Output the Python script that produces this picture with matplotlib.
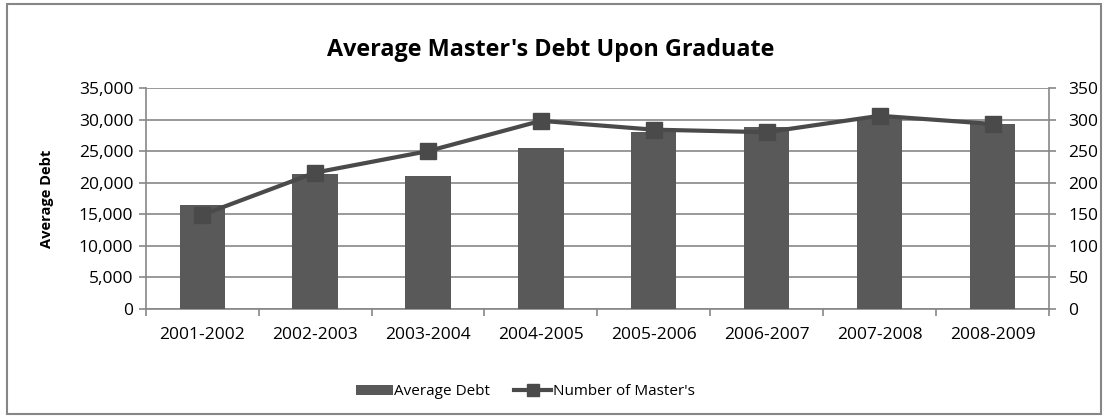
import numpy as np
import matplotlib
matplotlib.use('Agg')
import matplotlib.pyplot as plt
from matplotlib.patches import Rectangle
from matplotlib.ticker import FuncFormatter

# data
years = ['2001-2002', '2002-2003', '2003-2004', '2004-2005',
         '2005-2006', '2006-2007', '2007-2008', '2008-2009']
avg_debt = [16500, 21300, 21000, 25500, 28000, 28900, 30400, 29300]
num_masters = [149, 216, 250, 298, 284, 280, 306, 293]

BAR_COLOR = '#595959'
LINE_COLOR = '#4a4a4a'
GRID_COLOR = '#878787'
FONT = 'Open Sans'

plt.rcParams['font.family'] = [FONT, 'DejaVu Sans']

fig = plt.figure(figsize=(11.08, 4.20), dpi=100)
fig.patches.append(Rectangle((0.006, 0.014), 0.988, 0.976, transform=fig.transFigure,
                             fill=False, edgecolor='#868686', linewidth=1.5))

ax = fig.add_axes([0.1315, 0.2643, 0.8153, 0.5262])
x = np.arange(len(years))
ax.bar(x, avg_debt, width=0.4, color=BAR_COLOR, zorder=3, label='Average Debt')
ax.set_xlim(-0.5, len(years) - 0.5)
ax.set_ylim(0, 35000)
ax.set_yticks(np.arange(0, 35001, 5000))
ax.yaxis.set_major_formatter(FuncFormatter(lambda v, p: '{:,.0f}'.format(v)))
ax.yaxis.grid(True, color=GRID_COLOR, linewidth=1.2, zorder=0)
ax.set_axisbelow(True)

ax.set_xticks(x)
ax.set_xticklabels(years)
ax.set_xticks(np.arange(-0.5, len(years), 1), minor=True)
ax.tick_params(axis='x', which='major', length=0, pad=13, labelsize=12.5)
ax.tick_params(axis='x', which='minor', length=5, color=GRID_COLOR, width=1.2)
ax.tick_params(axis='y', length=5, color=GRID_COLOR, width=1.2, labelsize=12.5, pad=4)
for side in ['top', 'right']:
    ax.spines[side].set_visible(False)
for side in ['left', 'bottom']:
    ax.spines[side].set_color(GRID_COLOR)
    ax.spines[side].set_linewidth(1.2)
ax.set_ylabel('Average Debt', fontsize=10.5, fontweight='bold', labelpad=18)

ax2 = ax.twinx()
ax2.plot(x, num_masters, color=LINE_COLOR, linewidth=3, marker='s', markersize=11,
         markerfacecolor=LINE_COLOR, markeredgecolor=LINE_COLOR, zorder=4,
         label="Number of Master's")
ax2.set_ylim(0, 350)
ax2.set_yticks(np.arange(0, 351, 50))
ax2.tick_params(axis='y', length=5, color=GRID_COLOR, width=1.2, labelsize=12.5, pad=9)
for side in ['top', 'left', 'bottom']:
    ax2.spines[side].set_visible(False)
ax2.spines['right'].set_color(GRID_COLOR)
ax2.spines['right'].set_linewidth(1.2)

fig.text(0.497, 0.882, "Average Master's Debt Upon Graduate", ha='center', va='center',
         fontsize=16.8, fontweight='bold')

h1, l1 = ax.get_legend_handles_labels()
h2, l2 = ax2.get_legend_handles_labels()
fig.legend(h1 + h2, l1 + l2, loc='center', bbox_to_anchor=(0.474, 0.067), ncol=2,
           frameon=False, fontsize=11, handlelength=2.4, handletextpad=0.1,
           columnspacing=1.6, markerscale=0.8)

fig.savefig('out.png', dpi=100)
